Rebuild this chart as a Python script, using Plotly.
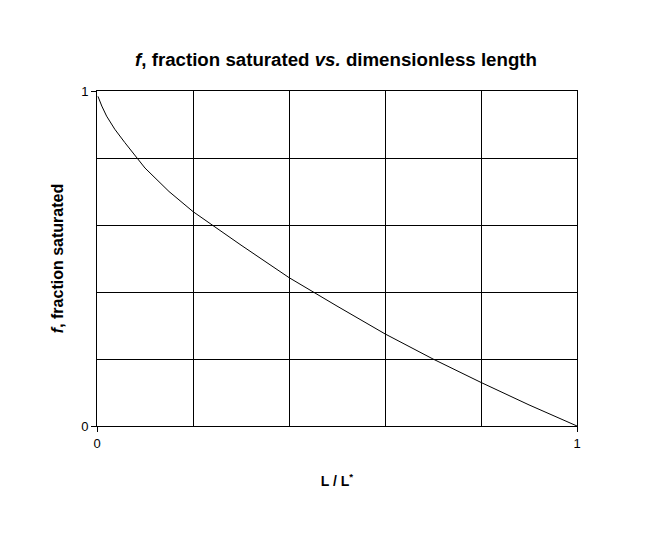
import plotly.graph_objects as go

# dimensionless length L/L* and fraction saturated f
length_ratio = [0.002, 0.01, 0.02, 0.037, 0.058, 0.083, 0.1, 0.15, 0.2, 0.24,
                0.3, 0.4, 0.45, 0.5, 0.6, 0.7, 0.8, 0.9, 1.0]
frac_saturated = [0.984, 0.955, 0.925, 0.886, 0.846, 0.80, 0.77, 0.70, 0.64, 0.60,
                  0.54, 0.443, 0.40, 0.358, 0.275, 0.20, 0.13, 0.063, 0.0]

tick_vals = [0, 1]
tick_text = ["0", "1"]

font_family = "Liberation Sans, Arial, sans-serif"

fig = go.Figure()

fig.add_trace(go.Scatter(
    x=length_ratio, y=frac_saturated,
    mode="lines",
    line=dict(color="black", width=1),
    showlegend=False,
    hoverinfo="x+y",
))

axis_common = dict(
    range=[0, 1],
    tickvals=tick_vals,
    ticktext=tick_text,
    ticks="outside",
    ticklen=5,
    tickcolor="black",
    tickwidth=1,
    showline=True,
    linecolor="black",
    linewidth=1,
    mirror=True,
    showgrid=False,
    zeroline=False,
    tickfont=dict(family=font_family, size=13, color="black"),
    minor=dict(dtick=0.2, showgrid=True, gridcolor="black", gridwidth=1, ticks=""),
)

fig.update_xaxes(
    **axis_common,
    title=dict(text="<b>L / L<sup>*</sup></b>",
               font=dict(family=font_family, size=14, color="black"),
               standoff=26),
)
fig.update_yaxes(
    **axis_common,
    title=dict(text="<b><i>f</i>, fraction saturated</b>",
               font=dict(family=font_family, size=16, color="black"),
               standoff=13),
)

# page body adds 8px offset, so margins are shifted accordingly
fig.update_layout(
    width=667, height=539,
    margin=dict(l=89, r=98, t=83, b=121),
    paper_bgcolor="white",
    plot_bgcolor="white",
    title=dict(
        text="<b><i>f</i>, fraction saturated <i>vs.</i> dimensionless length</b>",
        font=dict(family=font_family, size=18.7, color="black"),
        x=(336 - 8) / 667, xanchor="center",
        y=1 - 51 / 539, yanchor="middle",
    ),
)

fig.write_html("out.html")
